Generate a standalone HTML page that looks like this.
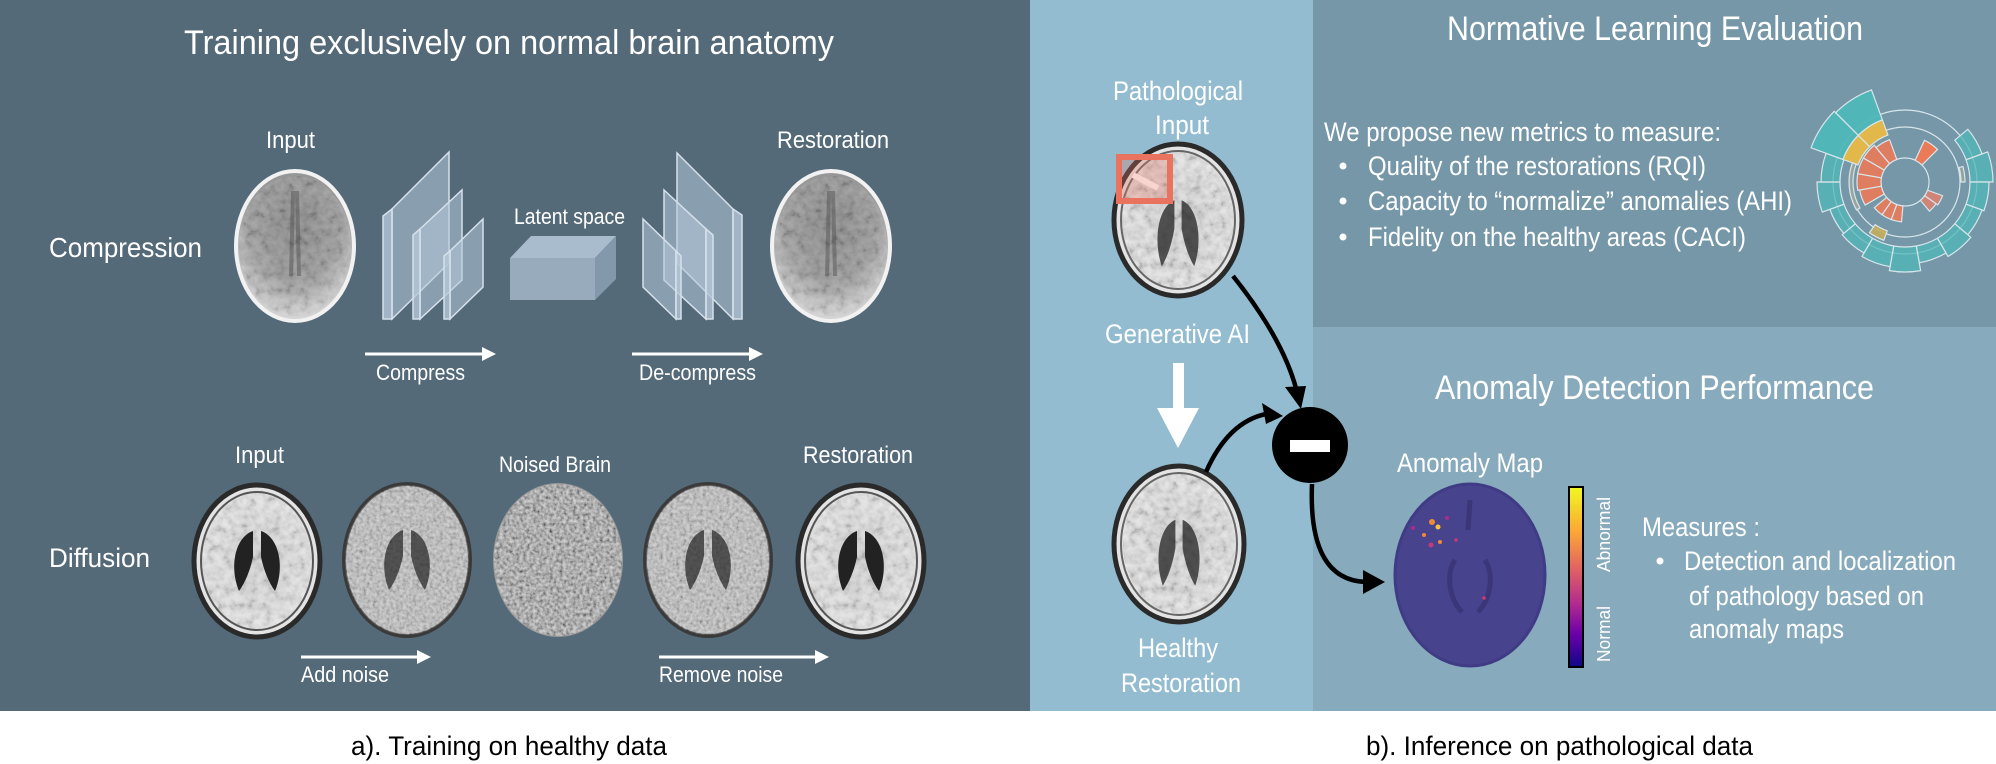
<!DOCTYPE html>
<html><head><meta charset="utf-8">
<style>
html,body{margin:0;padding:0;background:#fff;}
svg{display:block;}
text{font-family:"Liberation Sans",sans-serif;fill:#fff;}
</style></head>
<body>
<svg id="s" width="1996" height="764" viewBox="0 0 1996 764" xmlns="http://www.w3.org/2000/svg">
<defs>
<radialGradient id="gT1" cx="50%" cy="35%" r="65%">
<stop offset="0" stop-color="#858585"/><stop offset="0.6" stop-color="#9a9a9a"/><stop offset="1" stop-color="#dadada"/>
</radialGradient>
<radialGradient id="gT2" cx="50%" cy="50%" r="60%">
<stop offset="0" stop-color="#d0d0d0"/><stop offset="0.8" stop-color="#e4e4e4"/><stop offset="1" stop-color="#b5b5b5"/>
</radialGradient>
<linearGradient id="cbar" x1="0" y1="0" x2="0" y2="1">
<stop offset="0" stop-color="#f0f921"/><stop offset="0.25" stop-color="#fca636"/><stop offset="0.45" stop-color="#e16462"/><stop offset="0.65" stop-color="#b12a90"/><stop offset="0.82" stop-color="#6a00a8"/><stop offset="1" stop-color="#0d0887"/>
</linearGradient>
<filter id="noise" x="0" y="0" width="100%" height="100%" filterUnits="objectBoundingBox">
<feTurbulence type="fractalNoise" baseFrequency="0.3" numOctaves="2" seed="3"/>
<feColorMatrix type="matrix" values="1.4 0 0 0 -0.2  1.4 0 0 0 -0.2  1.4 0 0 0 -0.2  0 0 0 0 1"/>
</filter>
<filter id="tex" x="0" y="0" width="100%" height="100%" filterUnits="objectBoundingBox">
<feTurbulence type="fractalNoise" baseFrequency="0.12" numOctaves="3" seed="7"/>
<feColorMatrix type="matrix" values="2 0 0 0 -0.5  2 0 0 0 -0.5  2 0 0 0 -0.5  0 0 0 0 1"/>
</filter>
<g id="vent">
<path d="M-4,-30 C-22,-24 -28,6 -18,30 C-12,22 -7,10 -4,-4 Z" fill="#222"/>
<path d="M4,-30 C22,-24 28,6 18,30 C12,22 7,10 4,-4 Z" fill="#222"/>
</g>
<clipPath id="cE"><ellipse cx="0" cy="0" rx="56" ry="70"/></clipPath>
<g id="brT1">
<ellipse cx="0" cy="0" rx="59" ry="75" fill="url(#gT1)" stroke="#f2f2f2" stroke-width="4"/>
<rect x="-60" y="-75" width="120" height="150" filter="url(#tex)" clip-path="url(#cE)" opacity="0.15"/>
<path d="M-2,-55 L-4,30 M2,-55 L4,30" stroke="#555" stroke-width="4" opacity="0.5"/>
</g>
<g id="brT2">
<ellipse cx="0" cy="0" rx="63" ry="76" fill="url(#gT2)" stroke="#2a2a2a" stroke-width="5"/>
<rect x="-60" y="-75" width="120" height="150" filter="url(#tex)" clip-path="url(#cE)" opacity="0.18"/>
<ellipse cx="0" cy="0" rx="56" ry="69" fill="none" stroke="#555" stroke-width="2"/>
<use href="#vent"/>
</g>
<clipPath id="cN1"><ellipse cx="407" cy="560" rx="62" ry="75"/></clipPath>
<clipPath id="cN2"><ellipse cx="558" cy="560" rx="64" ry="76"/></clipPath>
<clipPath id="cN3"><ellipse cx="708" cy="560" rx="62" ry="75"/></clipPath>
</defs>

<rect x="0" y="0" width="1996" height="764" fill="#fff"/>
<rect x="0" y="0" width="1030" height="711" fill="#546a78"/>
<rect x="1030" y="0" width="283" height="711" fill="#93bcd0"/>
<rect x="1313" y="0" width="683" height="327" fill="#7597a8"/>
<rect x="1313" y="327" width="683" height="384" fill="#87aabc"/>

<text x="184" y="54" font-size="34" textLength="650" lengthAdjust="spacingAndGlyphs">Training exclusively on normal brain anatomy</text>
<text x="266" y="148" font-size="24" textLength="49" lengthAdjust="spacingAndGlyphs">Input</text>
<text x="777" y="148" font-size="24" textLength="112" lengthAdjust="spacingAndGlyphs">Restoration</text>
<text x="49" y="257" font-size="28" textLength="153" lengthAdjust="spacingAndGlyphs">Compression</text>
<text x="514" y="224" font-size="22" textLength="111" lengthAdjust="spacingAndGlyphs">Latent space</text>

<use href="#brT1" x="295" y="246"/>
<use href="#brT1" x="831" y="246"/>

<g fill="#b4c8da" fill-opacity="0.55" stroke="#d6e1ec" stroke-width="1.5">
<polygon points="392,209 449,152 449,263 392,319"/><polygon points="383,216 392,209 392,319 383,319" fill-opacity="0.8"/>
<polygon points="420,229 462,190 462,280 420,319"/><polygon points="413,235 420,229 420,319 413,319" fill-opacity="0.8"/>
<polygon points="450,251 483,219 483,287 450,319"/><polygon points="444,256 450,251 450,319 444,319" fill-opacity="0.8"/>
<polygon points="677,153 733,209 733,319 677,263"/><polygon points="733,209 742,215 742,319 733,319" fill-opacity="0.8"/>
<polygon points="664,190 706,229 706,319 664,280"/><polygon points="706,229 713,235 713,319 706,319" fill-opacity="0.8"/>
<polygon points="643,219 676,251 676,319 643,287"/><polygon points="676,251 681,256 681,319 676,319" fill-opacity="0.8"/>
</g>
<polygon points="510,258 531,236 616,236 595,258" fill="#a9bccd"/>
<polygon points="595,258 616,236 616,279 595,300" fill="#8398ab"/>
<rect x="510" y="258" width="85" height="42" fill="#97abbd"/>

<g stroke="#fff" stroke-width="3" fill="#fff">
<line x1="365" y1="354" x2="484" y2="354"/><polygon points="482,347 496,354 482,361" stroke="none"/>
<line x1="632" y1="354" x2="751" y2="354"/><polygon points="749,347 763,354 749,361" stroke="none"/>
<line x1="301" y1="657" x2="419" y2="657"/><polygon points="417,650 431,657 417,664" stroke="none"/>
<line x1="659" y1="657" x2="817" y2="657"/><polygon points="815,650 829,657 815,664" stroke="none"/>
</g>
<text x="376" y="380" font-size="22" textLength="89" lengthAdjust="spacingAndGlyphs">Compress</text>
<text x="639" y="380" font-size="22" textLength="117" lengthAdjust="spacingAndGlyphs">De-compress</text>

<text x="235" y="463" font-size="24" textLength="49" lengthAdjust="spacingAndGlyphs">Input</text>
<text x="499" y="472" font-size="22" textLength="112" lengthAdjust="spacingAndGlyphs">Noised Brain</text>
<text x="803" y="463" font-size="24" textLength="110" lengthAdjust="spacingAndGlyphs">Restoration</text>
<text x="49" y="567" font-size="27" textLength="101" lengthAdjust="spacingAndGlyphs">Diffusion</text>

<use href="#brT2" x="257" y="561"/>
<use href="#brT2" x="861" y="561"/>
<g>
<ellipse cx="407" cy="560" rx="63" ry="76" fill="#bdbdbd" stroke="#3a3a3a" stroke-width="4"/>
<rect x="340" y="480" width="135" height="160" filter="url(#noise)" clip-path="url(#cN1)" opacity="0.35"/>
<use href="#vent" x="407" y="560" opacity="0.7"/>
</g>
<g>
<ellipse cx="558" cy="560" rx="65" ry="77" fill="#9a9a9a"/>
<rect x="490" y="480" width="140" height="160" filter="url(#noise)" clip-path="url(#cN2)" opacity="0.6"/>
</g>
<g>
<ellipse cx="708" cy="560" rx="63" ry="76" fill="#bdbdbd" stroke="#3a3a3a" stroke-width="4"/>
<rect x="640" y="480" width="135" height="160" filter="url(#noise)" clip-path="url(#cN3)" opacity="0.35"/>
<use href="#vent" x="708" y="560" opacity="0.7"/>
</g>
<text x="301" y="682" font-size="22" textLength="88" lengthAdjust="spacingAndGlyphs">Add noise</text>
<text x="659" y="682" font-size="22" textLength="124" lengthAdjust="spacingAndGlyphs">Remove noise</text>

<text x="1113" y="100" font-size="27" textLength="130" lengthAdjust="spacingAndGlyphs">Pathological</text>
<text x="1155" y="134" font-size="27" textLength="54" lengthAdjust="spacingAndGlyphs">Input</text>
<g transform="translate(1178,220)">
<ellipse cx="0" cy="0" rx="64" ry="76" fill="url(#gT2)" stroke="#2a2a2a" stroke-width="5"/>
<rect x="-60" y="-75" width="120" height="150" filter="url(#tex)" clip-path="url(#cE)" opacity="0.2"/>
<ellipse cx="0" cy="0" rx="57" ry="69" fill="none" stroke="#666" stroke-width="2"/>
<use href="#vent" transform="scale(0.9,1.1) translate(0,12)" opacity="0.75"/>
<path d="M-45,-45 L-20,-32" stroke="#fff" stroke-width="6"/>
</g>
<rect x="1119" y="157" width="51" height="44" fill="#e9735f" fill-opacity="0.3" stroke="#e9735f" stroke-width="6"/>
<text x="1105" y="343" font-size="27" textLength="145" lengthAdjust="spacingAndGlyphs">Generative AI</text>
<rect x="1173" y="363" width="11" height="48" fill="#fff"/>
<polygon points="1157,408 1199,408 1178,448" fill="#fff"/>
<g transform="translate(1179,544)">
<ellipse cx="0" cy="0" rx="65" ry="78" fill="url(#gT2)" stroke="#2a2a2a" stroke-width="5"/>
<rect x="-60" y="-75" width="120" height="150" filter="url(#tex)" clip-path="url(#cE)" opacity="0.2"/>
<ellipse cx="0" cy="0" rx="58" ry="71" fill="none" stroke="#666" stroke-width="2"/>
<use href="#vent" transform="scale(0.9,1.1) translate(0,8)" opacity="0.75"/>
</g>
<text x="1138" y="657" font-size="27" textLength="80" lengthAdjust="spacingAndGlyphs">Healthy</text>
<text x="1121" y="692" font-size="27" textLength="120" lengthAdjust="spacingAndGlyphs">Restoration</text>

<g fill="none" stroke="#000" stroke-width="4.5">
<path d="M1233,276 Q1284,340 1297,392"/>
<path d="M1206,472 Q1228,422 1266,414"/>
<path d="M1312,484 Q1308,580 1366,582"/>
</g>
<polygon points="1285,387 1306,386 1301,409" fill="#000"/>
<polygon points="1262,403 1266,424 1283,416" fill="#000"/>
<polygon points="1363,570 1363,594 1385,582" fill="#000"/>
<circle cx="1310" cy="445" r="38" fill="#000"/>
<rect x="1290" y="440" width="40" height="12" fill="#fff"/>

<text x="1447" y="40" font-size="34" textLength="416" lengthAdjust="spacingAndGlyphs">Normative Learning Evaluation</text>
<text x="1324" y="141" font-size="27" textLength="397" lengthAdjust="spacingAndGlyphs">We propose new metrics to measure:</text>
<circle cx="1343" cy="166" r="3.5" fill="#fff"/>
<circle cx="1343" cy="201" r="3.5" fill="#fff"/>
<circle cx="1343" cy="237" r="3.5" fill="#fff"/>
<text x="1368" y="175" font-size="27" textLength="338" lengthAdjust="spacingAndGlyphs">Quality of the restorations (RQI)</text>
<text x="1368" y="210" font-size="27" textLength="424" lengthAdjust="spacingAndGlyphs">Capacity to “normalize” anomalies (AHI)</text>
<text x="1368" y="246" font-size="27" textLength="378" lengthAdjust="spacingAndGlyphs">Fidelity on the healthy areas (CACI)</text>
<g id="chart"></g>

<text x="1435" y="399" font-size="34" textLength="439" lengthAdjust="spacingAndGlyphs">Anomaly Detection Performance</text>
<text x="1397" y="472" font-size="27" textLength="146" lengthAdjust="spacingAndGlyphs">Anomaly Map</text>
<ellipse cx="1470" cy="575" rx="75" ry="91" fill="#47438c" stroke="#3f3c85" stroke-width="3"/>
<path d="M1470,500 L1468,530 M1455,560 C1445,575 1450,600 1462,612 M1485,560 C1495,575 1490,600 1478,612" stroke="#3b3679" stroke-width="5" fill="none"/>
<g fill="#f08a3a">
<circle cx="1432" cy="522" r="3"/><circle cx="1438" cy="527" r="2.5" fill="#f6c240"/><circle cx="1424" cy="535" r="2"/>
<circle cx="1431" cy="545" r="2.5" fill="#c43a7a"/><circle cx="1440" cy="542" r="2" /><circle cx="1413" cy="528" r="2" fill="#b02a8a"/>
<circle cx="1447" cy="518" r="2" fill="#b02a8a"/><circle cx="1456" cy="540" r="1.8" fill="#c43a7a"/><circle cx="1484" cy="598" r="1.8" fill="#c43a7a"/>
</g>
<rect x="1569" y="487" width="14" height="180" fill="url(#cbar)" stroke="#000" stroke-width="2"/>
<text transform="translate(1610,572) rotate(-90)" font-size="18" textLength="75" lengthAdjust="spacingAndGlyphs">Abnormal</text>
<text transform="translate(1610,662) rotate(-90)" font-size="18" textLength="56" lengthAdjust="spacingAndGlyphs">Normal</text>
<text x="1642" y="536" font-size="27" textLength="118" lengthAdjust="spacingAndGlyphs">Measures :</text>
<circle cx="1660" cy="561" r="3.5" fill="#fff"/>
<text x="1684" y="570" font-size="27" textLength="272" lengthAdjust="spacingAndGlyphs">Detection and localization</text>
<text x="1689" y="605" font-size="27" textLength="235" lengthAdjust="spacingAndGlyphs">of pathology based on</text>
<text x="1689" y="638" font-size="27" textLength="155" lengthAdjust="spacingAndGlyphs">anomaly maps</text>

<text x="351" y="755" font-size="27" style="fill:#000" textLength="316" lengthAdjust="spacingAndGlyphs">a). Training on healthy data</text>
<text x="1366" y="755" font-size="27" style="fill:#000" textLength="387" lengthAdjust="spacingAndGlyphs">b). Inference on pathological data</text>
</svg>
<script>
(function(){
var g=document.getElementById('chart'),cx=1905,cy=182,NS='http://www.w3.org/2000/svg';
function P(a,r){a=a*Math.PI/180;return [cx+r*Math.cos(a),cy+r*Math.sin(a)];}
function wedge(a0,a1,r0,r1,fill,op){
 var p1=P(a0,r1),p2=P(a1,r1),p3=P(a1,r0),p4=P(a0,r0),lg=(a1-a0)>180?1:0;
 var d='M'+p1+' A'+r1+','+r1+' 0 '+lg+' 1 '+p2+' L'+p3+' A'+r0+','+r0+' 0 '+lg+' 0 '+p4+'Z';
 var e=document.createElementNS(NS,'path');e.setAttribute('d',d);e.setAttribute('fill',fill);
 e.setAttribute('fill-opacity',op||1);e.setAttribute('stroke','#d8e6ec');e.setAttribute('stroke-width','1.2');g.appendChild(e);}
function circ(r){var e=document.createElementNS(NS,'circle');e.setAttribute('cx',cx);e.setAttribute('cy',cy);e.setAttribute('r',r);
 e.setAttribute('fill','none');e.setAttribute('stroke','#d8e6ec');e.setAttribute('stroke-width','1.2');g.appendChild(e);}
circ(24);circ(55);circ(72);
var teal='#4fb7b8';
var segs=[[-40,-20,82],[-20,0,88],[0,20,84],[20,40,82],[40,60,86],[60,80,82],[80,100,90],[100,120,86],[120,140,82],[140,160,80],[160,180,88],[180,200,84]];
segs.forEach(function(s){wedge(s[0],s[1],65,s[2],teal,0.75);});
wedge(200,225,66,100,teal,0.95);wedge(225,250,66,98,teal,0.95);
wedge(200,225,50,66,'#e2b84a',1);wedge(225,250,50,66,'#e2b84a',1);
wedge(110,125,52,62,'#c7ad5a',0.9);
var org='#eb7a58';
[[150,170,46],[170,190,48],[190,210,48],[210,230,48],[230,250,45],[125,140,40],[110,125,40],[95,110,40]].forEach(function(s){wedge(s[0],s[1],24,s[2],org,0.9);});
wedge(295,315,24,46,org,1);wedge(20,35,24,40,'#d88270',0.9);wedge(35,50,24,38,'#d88270',0.9);
wedge(-15,0,56,60,'#9aa49a',0.9);wedge(150,200,52,56,'#9aa49a',0.9);
})();
</script>
</body></html>
